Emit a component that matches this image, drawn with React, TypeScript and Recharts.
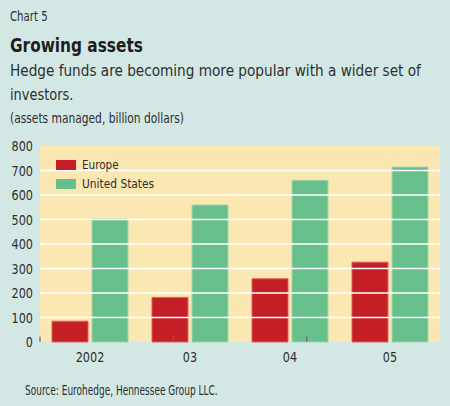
import { useLayoutEffect, useRef, useState, ReactNode } from 'react';
import { BarChart, Bar, XAxis, YAxis, ReferenceLine, CartesianGrid, Legend } from 'recharts';

const YEARS = ['2002', '03', '04', '05'];
const EUROPE = [85, 182, 258, 326];
const UNITED_STATES = [502, 559, 660, 714];
const Y_TICKS = [0, 100, 200, 300, 400, 500, 600, 700, 800];
const GRID_VALUES = [100, 200, 300, 400, 500, 600, 700];
const EDGE_TICKS = [0, 1, 2, 3, 4];

const FONT = '"DejaVu Sans Condensed", "Liberation Sans Narrow", sans-serif';
const RED = '#C41E27';
const GREEN = '#67BF8B';
const INK = '#2e2e2e';
const SQUEEZE = 0.86;

const data = YEARS.map((year, i) => ({
  year,
  europe: EUROPE[i],
  us: UNITED_STATES[i],
}));

// text squeezed horizontally to the reference width (the original face is a condensed one)
function FitText(props: { x: number; y: number; size: number; width: number; bold?: boolean; color?: string; children: ReactNode }) {
  const ref = useRef<HTMLSpanElement>(null);
  const [k, setK] = useState(1);
  useLayoutEffect(() => {
    if (ref.current && ref.current.offsetWidth) setK(props.width / ref.current.offsetWidth);
  }, [props.width]);
  return (
    <span
      ref={ref}
      style={{
        position: 'absolute',
        left: props.x,
        top: props.y,
        fontSize: props.size,
        lineHeight: 1,
        whiteSpace: 'nowrap',
        fontWeight: props.bold ? 'bold' : 'normal',
        color: props.color || INK,
        transform: `scaleX(${k})`,
        transformOrigin: '0 0',
      }}
    >
      {props.children}
    </span>
  );
}

function YTick({ x, y, payload }: any) {
  return (
    <g transform={`translate(${x},${y}) scale(${SQUEEZE},1)`}>
      <text x={0} y={0} dy="0.36em" textAnchor="end" fill={INK} fontSize={14.5} fontFamily={FONT}>
        {payload.value}
      </text>
    </g>
  );
}

function XTick({ x, y, payload }: any) {
  return (
    <g transform={`translate(${x},${y}) scale(${SQUEEZE},1)`}>
      <text x={0} y={0} dy="0.73em" textAnchor="middle" fill={INK} fontSize={14.5} fontFamily={FONT}>
        {payload.value}
      </text>
    </g>
  );
}

const legendItems = [
  { label: 'Europe', color: RED, width: 37 },
  { label: 'United States', color: GREEN, width: 72 },
];

function ChartLegend() {
  return (
    <div style={{ position: 'relative', width: 110, height: 30, fontFamily: FONT }}>
      {legendItems.map((item, i) => (
        <div key={item.label}>
          <span
            style={{
              position: 'absolute',
              left: 0,
              top: i * 19,
              width: 20,
              height: 10,
              background: item.color,
            }}
          />
          <FitText x={25.5} y={i * 19 - 0.3} size={12.5} width={item.width}>
            {item.label}
          </FitText>
        </div>
      ))}
    </div>
  );
}

export default function App() {
  return (
    <div
      style={{
        position: 'absolute',
        left: 0,
        top: 0,
        width: 450,
        height: 406,
        background: '#D3E8E5',
        fontFamily: FONT,
        overflow: 'hidden',
      }}
    >
      <FitText x={10} y={9} size={14} width={38}>Chart 5</FitText>
      <FitText x={10} y={35} size={20} width={133} bold color="#1e1e1e">Growing assets</FitText>
      <FitText x={10} y={62.5} size={16} width={411}>Hedge funds are becoming more popular with a wider set of</FitText>
      <FitText x={10} y={86.5} size={16} width={63}>investors.</FitText>
      <FitText x={10} y={111.6} size={13.5} width={174}>(assets managed, billion dollars)</FitText>

      <div style={{ position: 'absolute', left: 0, top: 0 }}>
        <BarChart
          width={450}
          height={406}
          data={data}
          margin={{ top: 146, right: 10, bottom: 34, left: 0 }}
          barCategoryGap={12}
          barGap={4}
        >
          <CartesianGrid horizontal={false} vertical={false} fill="#FBE7B2" stroke="none" />
          {GRID_VALUES.map((v) => (
            <ReferenceLine key={v} y={v} stroke="#ffffff" strokeWidth={1.5} />
          ))}
          <XAxis
            dataKey="year"
            axisLine={false}
            tickLine={false}
            tickMargin={3}
            height={30}
            tick={<XTick />}
          />
          <XAxis
            xAxisId="edge"
            type="number"
            domain={[0, 4]}
            ticks={EDGE_TICKS}
            allowDataOverflow
            mirror
            height={0.5}
            tick={() => <g />}
            axisLine={false}
            tickSize={5.5}
            tickLine={{ stroke: '#6a6a6a', strokeWidth: 1.2 }}
          />
          <YAxis
            domain={[0, 800]}
            ticks={Y_TICKS}
            width={40}
            axisLine={false}
            tickLine={false}
            tickMargin={1}
            interval={0}
            tick={<YTick />}
          />
          <Legend
            layout="vertical"
            align="center"
            verticalAlign="middle"
            wrapperStyle={{ left: 56, top: 159.7, width: 'auto' }}
            content={() => <ChartLegend />}
          />
          <Bar dataKey="europe" name="Europe" fill={RED} stroke="#E2615B" strokeWidth={1} isAnimationActive={false} />
          <Bar dataKey="us" name="United States" fill={GREEN} stroke="#9BD6AE" strokeWidth={1} isAnimationActive={false} />
        </BarChart>
      </div>

      <FitText x={25} y={383.6} size={13.5} width={193}>Source: Eurohedge, Hennessee Group LLC.</FitText>
    </div>
  );
}
